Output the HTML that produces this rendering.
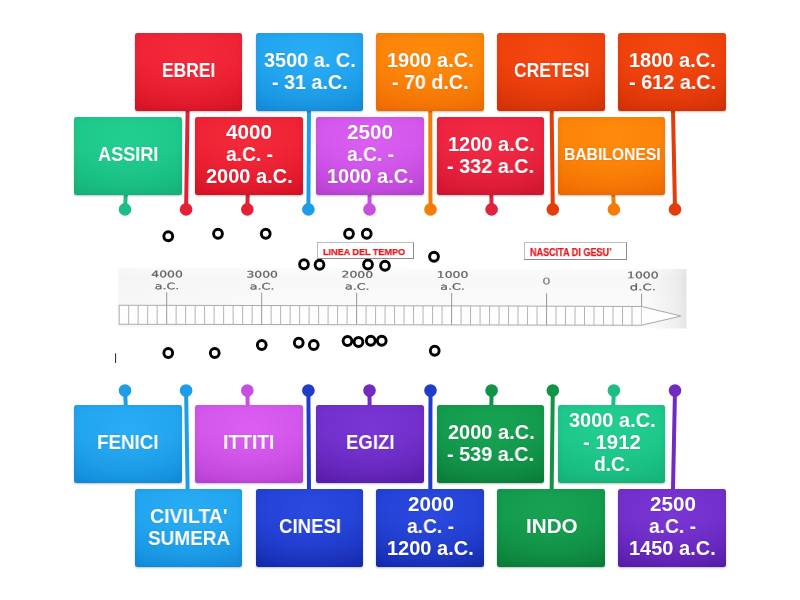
<!DOCTYPE html>
<html lang="it"><head><meta charset="utf-8"><title>Linea del tempo</title>
<style>
html,body{margin:0;padding:0;background:#fff}
body{width:800px;height:600px;position:relative;overflow:hidden;font-family:"Liberation Sans",sans-serif}
#g{position:absolute;left:0;top:0}
.b{position:absolute;width:107.5px;height:77.5px;border-radius:2.5px;box-shadow:0 1px 2px rgba(0,0,0,.25),inset 0 0 6px rgba(0,0,0,.07);color:#fff;font-weight:700;font-size:20px;line-height:1}
.b span{position:absolute;white-space:pre;transform-origin:0 0;text-shadow:0 0 2px rgba(0,0,0,.15);will-change:transform}
.b .s{font-size:16.7px}
.tk{font-family:"DejaVu Sans",sans-serif;font-size:9px;fill:#626262;stroke:#626262;stroke-width:.22px;text-anchor:middle}
.lb{position:absolute;box-sizing:border-box;border:1px solid;border-color:#bdbdbd #8c8c8c #8c8c8c #bdbdbd;background:#fff;color:#df1c22;font-weight:700;font-size:9.4px;line-height:1;white-space:nowrap}
.lb span{position:absolute;transform-origin:0 0;will-change:transform;-webkit-text-stroke:.25px #df1c22}
</style></head><body>
<svg id="g" width="800" height="600" viewBox="0 0 800 600" style="will-change:transform">
<defs><linearGradient id="tlbg" x1="0" y1="0" x2="0" y2="1"><stop offset="0" stop-color="#fbfbfb"/><stop offset="0.15" stop-color="#f8f8f8"/><stop offset="0.55" stop-color="#fafafa"/><stop offset="1" stop-color="#fbfbfb"/></linearGradient>
<linearGradient id="tlbg2" x1="0" y1="0" x2="1" y2="0"><stop offset="0" stop-color="#000" stop-opacity="0.012"/><stop offset="0.3" stop-color="#000" stop-opacity="0"/><stop offset="0.93" stop-color="#000" stop-opacity="0"/><stop offset="0.985" stop-color="#000" stop-opacity="0.05"/><stop offset="1" stop-color="#000" stop-opacity="0.09"/></linearGradient></defs>
<g transform="rotate(0.13 380 300)"><rect x="118.3" y="268.4" width="568.2" height="59.4" fill="url(#tlbg)"/><rect x="118.3" y="268.4" width="568.2" height="59.4" fill="url(#tlbg2)"/><rect x="119.2" y="305.8" width="522.34" height="18.95" fill="#fefefe" stroke="#ababab" stroke-width="1"/><line x1="128.70" y1="305.8" x2="128.70" y2="324.75" stroke="#b4b4b4" stroke-width="1"/><line x1="138.19" y1="305.8" x2="138.19" y2="324.75" stroke="#b4b4b4" stroke-width="1"/><line x1="147.69" y1="305.8" x2="147.69" y2="324.75" stroke="#b4b4b4" stroke-width="1"/><line x1="157.19" y1="305.8" x2="157.19" y2="324.75" stroke="#b4b4b4" stroke-width="1"/><line x1="176.18" y1="305.8" x2="176.18" y2="324.75" stroke="#b4b4b4" stroke-width="1"/><line x1="185.68" y1="305.8" x2="185.68" y2="324.75" stroke="#b4b4b4" stroke-width="1"/><line x1="195.18" y1="305.8" x2="195.18" y2="324.75" stroke="#b4b4b4" stroke-width="1"/><line x1="204.67" y1="305.8" x2="204.67" y2="324.75" stroke="#b4b4b4" stroke-width="1"/><line x1="214.17" y1="305.8" x2="214.17" y2="324.75" stroke="#b4b4b4" stroke-width="1"/><line x1="223.67" y1="305.8" x2="223.67" y2="324.75" stroke="#b4b4b4" stroke-width="1"/><line x1="233.16" y1="305.8" x2="233.16" y2="324.75" stroke="#b4b4b4" stroke-width="1"/><line x1="242.66" y1="305.8" x2="242.66" y2="324.75" stroke="#b4b4b4" stroke-width="1"/><line x1="252.16" y1="305.8" x2="252.16" y2="324.75" stroke="#b4b4b4" stroke-width="1"/><line x1="271.15" y1="305.8" x2="271.15" y2="324.75" stroke="#b4b4b4" stroke-width="1"/><line x1="280.65" y1="305.8" x2="280.65" y2="324.75" stroke="#b4b4b4" stroke-width="1"/><line x1="290.15" y1="305.8" x2="290.15" y2="324.75" stroke="#b4b4b4" stroke-width="1"/><line x1="299.64" y1="305.8" x2="299.64" y2="324.75" stroke="#b4b4b4" stroke-width="1"/><line x1="309.14" y1="305.8" x2="309.14" y2="324.75" stroke="#b4b4b4" stroke-width="1"/><line x1="318.64" y1="305.8" x2="318.64" y2="324.75" stroke="#b4b4b4" stroke-width="1"/><line x1="328.13" y1="305.8" x2="328.13" y2="324.75" stroke="#b4b4b4" stroke-width="1"/><line x1="337.63" y1="305.8" x2="337.63" y2="324.75" stroke="#b4b4b4" stroke-width="1"/><line x1="347.13" y1="305.8" x2="347.13" y2="324.75" stroke="#b4b4b4" stroke-width="1"/><line x1="366.12" y1="305.8" x2="366.12" y2="324.75" stroke="#b4b4b4" stroke-width="1"/><line x1="375.62" y1="305.8" x2="375.62" y2="324.75" stroke="#b4b4b4" stroke-width="1"/><line x1="385.12" y1="305.8" x2="385.12" y2="324.75" stroke="#b4b4b4" stroke-width="1"/><line x1="394.61" y1="305.8" x2="394.61" y2="324.75" stroke="#b4b4b4" stroke-width="1"/><line x1="404.11" y1="305.8" x2="404.11" y2="324.75" stroke="#b4b4b4" stroke-width="1"/><line x1="413.61" y1="305.8" x2="413.61" y2="324.75" stroke="#b4b4b4" stroke-width="1"/><line x1="423.10" y1="305.8" x2="423.10" y2="324.75" stroke="#b4b4b4" stroke-width="1"/><line x1="432.60" y1="305.8" x2="432.60" y2="324.75" stroke="#b4b4b4" stroke-width="1"/><line x1="442.10" y1="305.8" x2="442.10" y2="324.75" stroke="#b4b4b4" stroke-width="1"/><line x1="461.09" y1="305.8" x2="461.09" y2="324.75" stroke="#b4b4b4" stroke-width="1"/><line x1="470.59" y1="305.8" x2="470.59" y2="324.75" stroke="#b4b4b4" stroke-width="1"/><line x1="480.09" y1="305.8" x2="480.09" y2="324.75" stroke="#b4b4b4" stroke-width="1"/><line x1="489.58" y1="305.8" x2="489.58" y2="324.75" stroke="#b4b4b4" stroke-width="1"/><line x1="499.08" y1="305.8" x2="499.08" y2="324.75" stroke="#b4b4b4" stroke-width="1"/><line x1="508.58" y1="305.8" x2="508.58" y2="324.75" stroke="#b4b4b4" stroke-width="1"/><line x1="518.07" y1="305.8" x2="518.07" y2="324.75" stroke="#b4b4b4" stroke-width="1"/><line x1="527.57" y1="305.8" x2="527.57" y2="324.75" stroke="#b4b4b4" stroke-width="1"/><line x1="537.07" y1="305.8" x2="537.07" y2="324.75" stroke="#b4b4b4" stroke-width="1"/><line x1="556.06" y1="305.8" x2="556.06" y2="324.75" stroke="#b4b4b4" stroke-width="1"/><line x1="565.56" y1="305.8" x2="565.56" y2="324.75" stroke="#b4b4b4" stroke-width="1"/><line x1="575.06" y1="305.8" x2="575.06" y2="324.75" stroke="#b4b4b4" stroke-width="1"/><line x1="584.55" y1="305.8" x2="584.55" y2="324.75" stroke="#b4b4b4" stroke-width="1"/><line x1="594.05" y1="305.8" x2="594.05" y2="324.75" stroke="#b4b4b4" stroke-width="1"/><line x1="603.55" y1="305.8" x2="603.55" y2="324.75" stroke="#b4b4b4" stroke-width="1"/><line x1="613.04" y1="305.8" x2="613.04" y2="324.75" stroke="#b4b4b4" stroke-width="1"/><line x1="622.54" y1="305.8" x2="622.54" y2="324.75" stroke="#b4b4b4" stroke-width="1"/><line x1="632.04" y1="305.8" x2="632.04" y2="324.75" stroke="#b4b4b4" stroke-width="1"/><line x1="166.69" y1="292.8" x2="166.69" y2="324.75" stroke="#a0a0a0" stroke-width="1.1"/><text x="166.99" y="277.7" class="tk" textLength="31.5" lengthAdjust="spacingAndGlyphs">4000</text><text x="166.99" y="289.7" class="tk" textLength="24.6" lengthAdjust="spacingAndGlyphs">a.C.</text><line x1="261.65" y1="292.8" x2="261.65" y2="324.75" stroke="#a0a0a0" stroke-width="1.1"/><text x="262.15" y="277.7" class="tk" textLength="31.5" lengthAdjust="spacingAndGlyphs">3000</text><text x="262.15" y="289.7" class="tk" textLength="24.6" lengthAdjust="spacingAndGlyphs">a.C.</text><line x1="356.62" y1="292.8" x2="356.62" y2="324.75" stroke="#a0a0a0" stroke-width="1.1"/><text x="357.32" y="277.7" class="tk" textLength="31.5" lengthAdjust="spacingAndGlyphs">2000</text><text x="357.32" y="289.7" class="tk" textLength="24.6" lengthAdjust="spacingAndGlyphs">a.C.</text><line x1="451.59" y1="292.8" x2="451.59" y2="324.75" stroke="#a0a0a0" stroke-width="1.1"/><text x="452.50" y="277.7" class="tk" textLength="31.5" lengthAdjust="spacingAndGlyphs">1000</text><text x="452.50" y="289.7" class="tk" textLength="24.6" lengthAdjust="spacingAndGlyphs">a.C.</text><line x1="546.57" y1="292.8" x2="546.57" y2="324.75" stroke="#a0a0a0" stroke-width="1.1"/><text x="546.37" y="284" class="tk" style="fill:#777;stroke:#777;stroke-width:.1px" textLength="8.4" lengthAdjust="spacingAndGlyphs">0</text><line x1="641.54" y1="292.8" x2="641.54" y2="324.75" stroke="#a0a0a0" stroke-width="1.1"/><text x="642.84" y="277.7" class="tk" textLength="31.5" lengthAdjust="spacingAndGlyphs">1000</text><text x="642.84" y="289.7" class="tk" textLength="26" lengthAdjust="spacingAndGlyphs">d.C.</text><path d="M641.54 305.8 L681.3 315.27 L641.54 324.75" fill="#fefefe" stroke="#ababab" stroke-width="1"/></g><line x1="115.6" y1="353.3" x2="115.6" y2="363" stroke="#222" stroke-width="1"/>
<ellipse cx="168.25" cy="236.25" rx="4.4" ry="4.5" fill="none" stroke="#000" stroke-width="2.9"/><ellipse cx="218" cy="233.75" rx="4.4" ry="4.5" fill="none" stroke="#000" stroke-width="2.9"/><ellipse cx="265.75" cy="233.75" rx="4.4" ry="4.5" fill="none" stroke="#000" stroke-width="2.9"/><ellipse cx="349" cy="233.75" rx="4.4" ry="4.5" fill="none" stroke="#000" stroke-width="2.9"/><ellipse cx="366.75" cy="233.75" rx="4.4" ry="4.5" fill="none" stroke="#000" stroke-width="2.9"/><ellipse cx="304" cy="264.25" rx="4.4" ry="4.5" fill="none" stroke="#000" stroke-width="2.9"/><ellipse cx="319.5" cy="264.75" rx="4.4" ry="4.5" fill="none" stroke="#000" stroke-width="2.9"/><ellipse cx="368" cy="264.5" rx="4.4" ry="4.5" fill="none" stroke="#000" stroke-width="2.9"/><ellipse cx="385" cy="265.75" rx="4.4" ry="4.5" fill="none" stroke="#000" stroke-width="2.9"/><ellipse cx="434" cy="256.75" rx="4.4" ry="4.5" fill="none" stroke="#000" stroke-width="2.9"/><ellipse cx="168.25" cy="353" rx="4.4" ry="4.5" fill="none" stroke="#000" stroke-width="2.9"/><ellipse cx="214.75" cy="353" rx="4.4" ry="4.5" fill="none" stroke="#000" stroke-width="2.9"/><ellipse cx="261.75" cy="345" rx="4.4" ry="4.5" fill="none" stroke="#000" stroke-width="2.9"/><ellipse cx="298.75" cy="342.75" rx="4.4" ry="4.5" fill="none" stroke="#000" stroke-width="2.9"/><ellipse cx="313.75" cy="345" rx="4.4" ry="4.5" fill="none" stroke="#000" stroke-width="2.9"/><ellipse cx="347.5" cy="341" rx="4.4" ry="4.5" fill="none" stroke="#000" stroke-width="2.9"/><ellipse cx="358.5" cy="342" rx="4.4" ry="4.5" fill="none" stroke="#000" stroke-width="2.9"/><ellipse cx="370.75" cy="340.75" rx="4.4" ry="4.5" fill="none" stroke="#000" stroke-width="2.9"/><ellipse cx="381.75" cy="340.75" rx="4.4" ry="4.5" fill="none" stroke="#000" stroke-width="2.9"/><ellipse cx="434.75" cy="350.75" rx="4.4" ry="4.5" fill="none" stroke="#000" stroke-width="2.9"/>
<line x1="127.8" y1="155.9" x2="125.0" y2="209.4" stroke="#1dbd84" stroke-width="4"/><circle cx="125.0" cy="209.4" r="6.3" fill="#1dbd84"/><line x1="188.2" y1="71.8" x2="186.1" y2="209.4" stroke="#e32036" stroke-width="4"/><circle cx="186.1" cy="209.4" r="6.3" fill="#e32036"/><line x1="248.7" y1="155.9" x2="247.3" y2="209.4" stroke="#e32036" stroke-width="4"/><circle cx="247.3" cy="209.4" r="6.3" fill="#e32036"/><line x1="309.2" y1="71.8" x2="308.4" y2="209.4" stroke="#1d9de6" stroke-width="4"/><circle cx="308.4" cy="209.4" r="6.3" fill="#1d9de6"/><line x1="369.7" y1="155.9" x2="369.5" y2="209.4" stroke="#c750df" stroke-width="4"/><circle cx="369.5" cy="209.4" r="6.3" fill="#c750df"/><line x1="430.2" y1="71.8" x2="430.5" y2="209.4" stroke="#f57c06" stroke-width="4"/><circle cx="430.5" cy="209.4" r="6.3" fill="#f57c06"/><line x1="490.7" y1="155.9" x2="491.6" y2="209.4" stroke="#df2341" stroke-width="4"/><circle cx="491.6" cy="209.4" r="6.3" fill="#df2341"/><line x1="551.2" y1="71.8" x2="552.8" y2="209.4" stroke="#e33d0c" stroke-width="4"/><circle cx="552.8" cy="209.4" r="6.3" fill="#e33d0c"/><line x1="611.7" y1="155.9" x2="613.9" y2="209.4" stroke="#f57c06" stroke-width="4"/><circle cx="613.9" cy="209.4" r="6.3" fill="#f57c06"/><line x1="672.2" y1="71.8" x2="675.0" y2="209.4" stroke="#e33d0c" stroke-width="4"/><circle cx="675.0" cy="209.4" r="6.3" fill="#e33d0c"/><line x1="127.8" y1="444.1" x2="125.0" y2="390.5" stroke="#1d9de6" stroke-width="4"/><circle cx="125.0" cy="390.5" r="6.3" fill="#1d9de6"/><line x1="188.2" y1="528.1" x2="186.1" y2="390.5" stroke="#1d9de6" stroke-width="4"/><circle cx="186.1" cy="390.5" r="6.3" fill="#1d9de6"/><line x1="248.7" y1="444.1" x2="247.3" y2="390.5" stroke="#c750df" stroke-width="4"/><circle cx="247.3" cy="390.5" r="6.3" fill="#c750df"/><line x1="309.2" y1="528.1" x2="308.4" y2="390.5" stroke="#1f3ccb" stroke-width="4"/><circle cx="308.4" cy="390.5" r="6.3" fill="#1f3ccb"/><line x1="369.7" y1="444.1" x2="369.5" y2="390.5" stroke="#722bc2" stroke-width="4"/><circle cx="369.5" cy="390.5" r="6.3" fill="#722bc2"/><line x1="430.2" y1="528.1" x2="430.5" y2="390.5" stroke="#1f3ccb" stroke-width="4"/><circle cx="430.5" cy="390.5" r="6.3" fill="#1f3ccb"/><line x1="490.7" y1="444.1" x2="491.6" y2="390.5" stroke="#119348" stroke-width="4"/><circle cx="491.6" cy="390.5" r="6.3" fill="#119348"/><line x1="551.2" y1="528.1" x2="552.8" y2="390.5" stroke="#119348" stroke-width="4"/><circle cx="552.8" cy="390.5" r="6.3" fill="#119348"/><line x1="611.7" y1="444.1" x2="613.9" y2="390.5" stroke="#1dbd84" stroke-width="4"/><circle cx="613.9" cy="390.5" r="6.3" fill="#1dbd84"/><line x1="672.2" y1="528.1" x2="675.0" y2="390.5" stroke="#722bc2" stroke-width="4"/><circle cx="675.0" cy="390.5" r="6.3" fill="#722bc2"/>
</svg>
<div class="lb" style="left:317.1px;top:242.1px;width:96.8px;height:16.9px"><span style="left:5.1px;top:4px;font-size:9.9px;transform:scaleX(.918)">LINEA DEL TEMPO</span></div>
<div class="lb" style="left:523.6px;top:241.8px;width:103.6px;height:18px"><span style="left:5.6px;top:5.5px;font-size:10px;transform:scaleX(.906)">NASCITA DI GESU’</span></div>
<div class="b" style="left:74.0px;top:117.2px;background:radial-gradient(ellipse 70% 80% at 50% 30%,#22cf90 0%,#22cf9000 100%),linear-gradient(180deg,#1cc588 0%,#1cc588 35%,#16b47a 100%)"><span style="left:24.48px;top:26.82px;transform:scaleX(0.906)">ASSIRI</span></div><div class="b" style="left:134.5px;top:33.1px;background:radial-gradient(ellipse 70% 80% at 50% 30%,#f42a3a 0%,#f42a3a00 100%),linear-gradient(180deg,#ec2033 0%,#ec2033 35%,#d61426 100%)"><span style="left:27.47px;top:26.92px;transform:scaleX(0.872)">EBREI</span></div><div class="b" style="left:195.0px;top:117.2px;background:radial-gradient(ellipse 70% 80% at 50% 30%,#f42a3a 0%,#f42a3a00 100%),linear-gradient(180deg,#ec2033 0%,#ec2033 35%,#d61426 100%)"><span style="left:31.18px;top:4.82px;transform:scaleX(1.033)">4000</span><span style="left:30.86px;top:26.82px;transform:scaleX(0.961)">a.C. -</span><span style="left:10.95px;top:48.82px;transform:scaleX(0.999)">2000 a.C.</span></div><div class="b" style="left:255.5px;top:33.1px;background:radial-gradient(ellipse 70% 80% at 50% 30%,#29adf5 0%,#29adf500 100%),linear-gradient(180deg,#1fa1ed 0%,#1fa1ed 35%,#138ddb 100%)"><span style="left:8.49px;top:16.92px;transform:scaleX(0.994)">3500 a. C.</span><span style="left:16.35px;top:38.92px;transform:scaleX(0.985)">- 31 a.C.</span></div><div class="b" style="left:316.0px;top:117.2px;background:radial-gradient(ellipse 70% 80% at 50% 30%,#dc5ef3 0%,#dc5ef300 100%),linear-gradient(180deg,#cf53e8 0%,#cf53e8 35%,#b943d4 100%)"><span style="left:31.30px;top:4.82px;transform:scaleX(1.031)">2500</span><span style="left:30.86px;top:26.82px;transform:scaleX(0.961)">a.C. -</span><span style="left:11.02px;top:48.82px;transform:scaleX(0.999)">1000 a.C.</span></div><div class="b" style="left:376.4px;top:33.1px;background:radial-gradient(ellipse 70% 80% at 50% 30%,#ff8b0c 0%,#ff8b0c00 100%),linear-gradient(180deg,#fb8007 0%,#fb8007 35%,#ef6c02 100%)"><span style="left:11.02px;top:16.92px;transform:scaleX(0.999)">1900 a.C.</span><span style="left:15.92px;top:38.92px;transform:scaleX(0.983)">- 70 d.C.</span></div><div class="b" style="left:436.9px;top:117.2px;background:radial-gradient(ellipse 70% 80% at 50% 30%,#f22a45 0%,#f22a4500 100%),linear-gradient(180deg,#e9213d 0%,#e9213d 35%,#d21632 100%)"><span style="left:11.02px;top:16.82px;transform:scaleX(0.999)">1200 a.C.</span><span style="left:10.58px;top:38.82px;transform:scaleX(0.992)">- 332 a.C.</span></div><div class="b" style="left:497.4px;top:33.1px;background:radial-gradient(ellipse 70% 80% at 50% 30%,#f5470f 0%,#f5470f00 100%),linear-gradient(180deg,#ec3e0b 0%,#ec3e0b 35%,#d43207 100%)"><span style="left:16.26px;top:26.92px;transform:scaleX(0.871)">CRETESI</span></div><div class="b" style="left:557.9px;top:117.2px;background:radial-gradient(ellipse 70% 80% at 50% 30%,#ff8b0c 0%,#ff8b0c00 100%),linear-gradient(180deg,#fb8007 0%,#fb8007 35%,#ef6c02 100%)"><span class="s" style="left:5.79px;top:29.82px;transform:scaleX(0.939)">BABILONESI</span></div><div class="b" style="left:618.4px;top:33.1px;background:radial-gradient(ellipse 70% 80% at 50% 30%,#f5470f 0%,#f5470f00 100%),linear-gradient(180deg,#ec3e0b 0%,#ec3e0b 35%,#d43207 100%)"><span style="left:11.02px;top:16.92px;transform:scaleX(0.999)">1800 a.C.</span><span style="left:10.58px;top:38.92px;transform:scaleX(0.992)">- 612 a.C.</span></div><div class="b" style="left:74.0px;top:405.4px;background:radial-gradient(ellipse 70% 80% at 50% 30%,#29adf5 0%,#29adf500 100%),linear-gradient(180deg,#1fa1ed 0%,#1fa1ed 35%,#138ddb 100%)"><span style="left:23.37px;top:26.62px;transform:scaleX(0.939)">FENICI</span></div><div class="b" style="left:134.5px;top:489.4px;background:radial-gradient(ellipse 70% 80% at 50% 30%,#29adf5 0%,#29adf500 100%),linear-gradient(180deg,#1fa1ed 0%,#1fa1ed 35%,#138ddb 100%)"><span style="left:15.47px;top:16.62px;transform:scaleX(0.974)">CIVILTA'</span><span style="left:13.55px;top:38.62px;transform:scaleX(0.948)">SUMERA</span></div><div class="b" style="left:195.0px;top:405.4px;background:radial-gradient(ellipse 70% 80% at 50% 30%,#dc5ef3 0%,#dc5ef300 100%),linear-gradient(180deg,#cf53e8 0%,#cf53e8 35%,#b943d4 100%)"><span style="left:28.45px;top:26.62px;transform:scaleX(0.964)">ITTITI</span></div><div class="b" style="left:255.5px;top:489.4px;background:radial-gradient(ellipse 70% 80% at 50% 30%,#2a4ae0 0%,#2a4ae000 100%),linear-gradient(180deg,#213fd2 0%,#213fd2 35%,#162cb0 100%)"><span style="left:23.00px;top:26.62px;transform:scaleX(0.931)">CINESI</span></div><div class="b" style="left:316.0px;top:405.4px;background:radial-gradient(ellipse 70% 80% at 50% 30%,#7a36d4 0%,#7a36d400 100%),linear-gradient(180deg,#6f2cc9 0%,#6f2cc9 35%,#581eab 100%)"><span style="left:29.91px;top:26.62px;transform:scaleX(0.928)">EGIZI</span></div><div class="b" style="left:376.4px;top:489.4px;background:radial-gradient(ellipse 70% 80% at 50% 30%,#2a4ae0 0%,#2a4ae000 100%),linear-gradient(180deg,#213fd2 0%,#213fd2 35%,#162cb0 100%)"><span style="left:31.30px;top:4.62px;transform:scaleX(1.031)">2000</span><span style="left:30.86px;top:26.62px;transform:scaleX(0.961)">a.C. -</span><span style="left:11.02px;top:48.62px;transform:scaleX(0.999)">1200 a.C.</span></div><div class="b" style="left:436.9px;top:405.4px;background:radial-gradient(ellipse 70% 80% at 50% 30%,#17a353 0%,#17a35300 100%),linear-gradient(180deg,#12974a 0%,#12974a 35%,#0b7f3a 100%)"><span style="left:10.95px;top:16.62px;transform:scaleX(0.999)">2000 a.C.</span><span style="left:10.58px;top:38.62px;transform:scaleX(0.992)">- 539 a.C.</span></div><div class="b" style="left:497.4px;top:489.4px;background:radial-gradient(ellipse 70% 80% at 50% 30%,#17a353 0%,#17a35300 100%),linear-gradient(180deg,#12974a 0%,#12974a 35%,#0b7f3a 100%)"><span style="left:28.37px;top:26.62px;transform:scaleX(1.034)">INDO</span></div><div class="b" style="left:557.9px;top:405.4px;background:radial-gradient(ellipse 70% 80% at 50% 30%,#22cf90 0%,#22cf9000 100%),linear-gradient(180deg,#1cc588 0%,#1cc588 35%,#16b47a 100%)"><span style="left:11.11px;top:4.62px;transform:scaleX(0.998)">3000 a.C.</span><span style="left:25.16px;top:26.62px;transform:scaleX(1.020)">- 1912</span><span style="left:36.20px;top:48.62px;transform:scaleX(0.956)">d.C.</span></div><div class="b" style="left:618.4px;top:489.4px;background:radial-gradient(ellipse 70% 80% at 50% 30%,#7a36d4 0%,#7a36d400 100%),linear-gradient(180deg,#6f2cc9 0%,#6f2cc9 35%,#581eab 100%)"><span style="left:31.30px;top:4.62px;transform:scaleX(1.031)">2500</span><span style="left:30.86px;top:26.62px;transform:scaleX(0.961)">a.C. -</span><span style="left:11.02px;top:48.62px;transform:scaleX(0.999)">1450 a.C.</span></div>
</body></html>
